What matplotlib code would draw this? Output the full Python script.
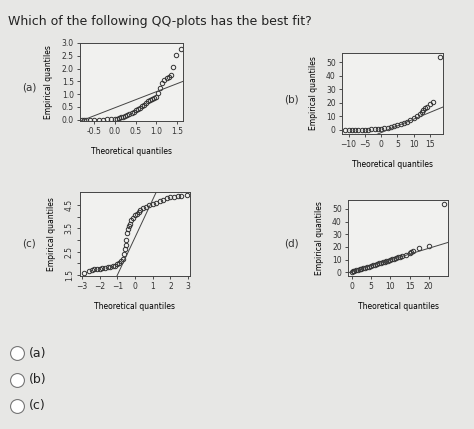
import matplotlib.pyplot as plt
from matplotlib.lines import Line2D

W, H = 474, 429

# (a)
a_x = [-0.8, -0.75, -0.7, -0.6, -0.5, -0.4, -0.3, -0.2, -0.1, 0.0, 0.05, 0.1, 0.15, 0.2, 0.25, 0.3,
       0.35, 0.4, 0.45, 0.5, 0.55, 0.6, 0.65, 0.7, 0.75, 0.8, 0.85, 0.9, 0.95, 1.0, 1.05, 1.1,
       1.15, 1.2, 1.25, 1.3, 1.35, 1.4, 1.47, 1.6]
a_y = [0.0, 0.0, 0.0, 0.0, 0.0, 0.0, 0.0, 0.01, 0.01, 0.02, 0.04, 0.06, 0.09, 0.12, 0.16, 0.2,
       0.24, 0.28, 0.32, 0.37, 0.42, 0.47, 0.52, 0.58, 0.64, 0.72, 0.78, 0.8, 0.84, 0.9, 1.05, 1.25,
       1.45, 1.55, 1.62, 1.68, 1.75, 2.05, 2.55, 2.75]
a_line = ([-0.85, 1.65], [-0.06, 1.5])

# (b)
b_x = [-11, -10, -9, -8, -7, -6, -5, -4, -3, -2, -1, 0, 1, 2, 3, 4, 5, 6, 7, 8, 9, 10, 11, 12, 12.5,
       13, 13.5, 14, 15, 16, 18]
b_y = [0, 0, 0, 0, 0, 0, 0, 0.2, 0.4, 0.6, 0.8, 1, 1.3, 1.7, 2.2, 2.8, 3.5, 4.3, 5.2, 6.2, 7.3,
       8.6, 10, 11.5, 13, 14.5, 16, 17, 19, 20.5, 54]
b_line = ([-12, 19], [-14, 17])

# (c)
c_x = [-2.9, -2.6, -2.45, -2.3, -2.15, -2.0, -1.85, -1.7, -1.55, -1.4, -1.25, -1.1, -1.0, -0.9,
       -0.8, -0.7, -0.6, -0.55, -0.5, -0.48, -0.45, -0.4, -0.35, -0.3, -0.2, -0.1, 0.0, 0.1, 0.2,
       0.3, 0.45, 0.6, 0.8, 1.0, 1.2, 1.4, 1.6, 1.8, 2.0, 2.2, 2.4, 2.6, 2.95]
c_y = [1.6, 1.68, 1.72, 1.74, 1.76, 1.77, 1.78, 1.8, 1.82, 1.84, 1.86, 1.9, 1.95, 2.02, 2.1, 2.2,
       2.4, 2.6, 2.8, 3.0, 3.3, 3.45, 3.6, 3.7, 3.85, 3.95, 4.05, 4.12, 4.2, 4.27, 4.35, 4.42, 4.48,
       4.55, 4.6, 4.66, 4.72, 4.78, 4.82, 4.85, 4.88, 4.9, 4.92]
c_line = ([-1.05, 1.2], [1.4, 5.05])

# (d)
d_x = [0.1, 0.3, 0.6, 1, 1.5, 2, 2.5, 3, 3.5, 4, 4.5, 5, 5.5, 6, 6.5, 7, 7.5, 8, 8.5, 9, 9.5, 10,
       10.5, 11, 11.5, 12, 12.5, 13, 14, 15, 15.5, 16, 17.5, 20, 24]
d_y = [0.3, 0.8, 1.2, 1.6, 2.0, 2.4, 2.8, 3.2, 3.6, 4.0, 4.5, 5.0, 5.5, 6.0, 6.5, 7.0, 7.3, 7.7,
       8.1, 8.6, 9.2, 9.8, 10.3, 10.8, 11.3, 11.8, 12.3, 12.8, 13.5, 15.5, 16, 16.5, 19.5, 21, 54]
d_line = ([-1, 25], [-0.5, 23.5])

bg = '#e7e7e5'
fig = plt.figure(figsize=(W / 100, H / 100), dpi=100, facecolor=bg)


def make_ax(box, xs, ys, line, xlim, ylim, xt, yt, ylabels=None, rot=0):
    l, t, r, b = box
    ax = fig.add_axes([l / W, 1 - b / H, (r - l) / W, (b - t) / H], facecolor='#f1f1ef')
    ax.plot(xs, ys, 'o', mfc='none', mec='#333333', ms=3.2, mew=0.7)
    ax.plot(line[0], line[1], color='#444444', lw=0.7)
    ax.set_xlim(xlim)
    ax.set_ylim(ylim)
    ax.set_xticks(xt)
    ax.set_yticks(yt)
    if ylabels is not None:
        ax.set_yticklabels(ylabels)
    ax.tick_params(labelsize=5.5, length=2.5, width=0.6, colors='#333333', pad=2)
    for lbl in ax.get_yticklabels():
        lbl.set_rotation(rot)
        if rot:
            lbl.set_va('center')
    ax.set_xlabel('Theoretical quantiles', fontsize=5.5, labelpad=8)
    ax.set_ylabel('Empirical quantiles', fontsize=5.5, labelpad=6)
    for s in ax.spines.values():
        s.set_linewidth(0.7)
        s.set_color('#444444')
    return ax


make_ax((80, 43, 183, 121), a_x, a_y, a_line, (-0.85, 1.65), (-0.05, 3.0),
        [-0.5, 0.0, 0.5, 1.0, 1.5], [0.0, 0.5, 1.0, 1.5, 2.0, 2.5, 3.0],
        ['0.0', '0.5', '1.0', '1.5', '2.0', '2.5', '3.0'])
fig.axes[0].set_xticklabels(['-0.5', '0.0', '0.5', '1.0', '1.5'])
make_ax((342, 53, 443, 134), b_x, b_y, b_line, (-12, 19), (-3, 57),
        [-10, -5, 0, 5, 10, 15], [0, 10, 20, 30, 40, 50])
make_ax((80, 192, 190, 276), c_x, c_y, c_line, (-3.1, 3.1), (1.45, 5.05),
        [-3, -2, -1, 0, 1, 2, 3], [1.5, 2.0, 2.5, 3.0, 3.5, 4.0, 4.5],
        ['1.5', '', '2.5', '', '3.5', '', '4.5'], rot=90)
make_ax((348, 200, 448, 276), d_x, d_y, d_line, (-1, 25), (-3, 57),
        [0, 5, 10, 15, 20], [0, 10, 20, 30, 40, 50])

fig.text(8 / W, 1 - 22 / H, 'Which of the following QQ-plots has the best fit?', fontsize=9,
         color='#222222', va='center')
for lab, x, y in [('(a)', 22, 88), ('(b)', 284, 100), ('(c)', 22, 243), ('(d)', 284, 243)]:
    fig.text(x / W, 1 - y / H, lab, fontsize=7.5, color='#333333', va='center')

for i, lab in enumerate(['(a)', '(b)', '(c)']):
    y = 1 - (353 + i * 26.5) / H
    fig.add_artist(Line2D([17 / W], [y], marker='o', ms=10, mfc='white', mec='#777777', mew=0.8,
                          transform=fig.transFigure))
    fig.text(29 / W, y, lab, fontsize=9, color='#222222', va='center')

fig.savefig('out.png', dpi=100, facecolor=bg)
